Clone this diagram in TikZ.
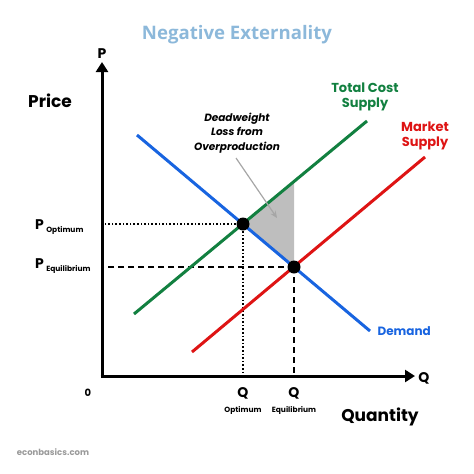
\documentclass[tikz,border=0pt]{standalone}
\usepackage{fontspec}
\setmainfont{Poppins}
\newfontfamily\titlefont{Open Sans}
\usetikzlibrary{arrows.meta}

\definecolor{demandblue}{RGB}{24,100,224}
\definecolor{costgreen}{RGB}{18,128,64}
\definecolor{marketred}{RGB}{222,20,20}
\definecolor{titleblue}{RGB}{140,184,218}
\definecolor{dwlgray}{RGB}{190,190,190}

\tikzset{
    curve/.style={line width=3pt},
    axis/.style={line width=3pt, -{Triangle[length=10pt,width=12pt]}},
    guide/.style={line width=1.6pt},
    pt/.style={circle, fill=black, inner sep=0pt, minimum size=13pt},
    lab/.style={font=\fontsize{13}{15}\selectfont\bfseries, align=center}
}

\begin{document}
\begin{tikzpicture}[x=1pt, y=-1pt]
    \useasboundingbox (0,0) rectangle (474,474);

    % Title
    \node[titleblue, font=\titlefont\fontsize{18.6}{21}\selectfont\bfseries] (title) at (237,35) {Negative Externality};

    % Key points and curve ends
    \coordinate (origin) at (102,376);
    \coordinate (ytop) at (102,62);
    \coordinate (xend) at (415,376);
    \coordinate (opt) at (243,224);
    \coordinate (eq) at (294,267);
    \coordinate (dtop) at (137,135);
    \coordinate (dbot) at (370,331);
    \coordinate (gbot) at (134,314);
    \coordinate (gtop) at (367,121);
    \coordinate (rbot) at (192,352);
    \coordinate (rtop) at (425,157);
    \coordinate (gmid) at (294,182);

    % Deadweight loss triangle
    \fill[dwlgray] (opt) -- (gmid) -- (eq) -- cycle;

    % Guide lines to the axes
    \draw[guide, dotted] (opt) -- (opt -| origin);
    \draw[guide, dotted] (opt) -- (opt |- origin);
    \draw[guide, dashed, dash pattern=on 6pt off 4pt] (eq) -- (eq -| origin);
    \draw[guide, dashed, dash pattern=on 6pt off 4pt] (eq) -- (eq |- origin);

    % Supply and demand curves
    \draw[curve, costgreen] (gbot) -- (gtop);
    \draw[curve, marketred] (rbot) -- (rtop);
    \draw[curve, demandblue] (dtop) -- (dbot);

    % Axes
    \draw[axis] (origin) -- (ytop);
    \draw[axis] ([xshift=-1.5pt]origin) -- (xend);

    % Intersection points
    \node[pt] (optpt) at (opt) {};
    \node[pt] (eqpt) at (eq) {};

    % Pointer to the triangle
    \coordinate (arrstart) at (236,158);
    \draw[gray!70, line width=1.2pt, -{Stealth[length=7pt,width=6pt]}] (arrstart) -- (277,218);

    % Curve labels
    \node[lab, costgreen] (tclab) at (365,97) {Total Cost\\Supply};
    \node[lab, marketred] (mslab) at (425,136) {Market\\Supply};
    \node[lab, demandblue, font=\fontsize{12}{14}\selectfont\bfseries, anchor=west] (dlab) at (374,331) {Demand};
    \node[font=\fontsize{10.5}{14.5}\selectfont\bfseries\itshape, align=center] (dwl) at (237,133) {Deadweight\\Loss from\\Overproduction};

    % Axis labels
    \node[font=\fontsize{14}{16}\selectfont\bfseries] (plab) at (102,54) {P};
    \node[font=\fontsize{14}{16}\selectfont\bfseries] (qlab) at (424,378) {Q};
    \node[font=\fontsize{17}{19}\selectfont\bfseries] (price) at (50,101) {Price};
    \node[font=\fontsize{17}{19}\selectfont\bfseries] (quantity) at (380,417) {Quantity};
    \node[font=\fontsize{10}{12}\selectfont\bfseries] (zero) at (88,393) {0};

    % Price levels
    \node[anchor=west, inner sep=0pt] (popt) at (35,227) {\fontsize{14}{16}\selectfont\bfseries P\,\raisebox{-3pt}{\fontsize{7.5}{10}\selectfont Optimum}};
    \node[anchor=west, inner sep=0pt] (peq) at (35,266) {\fontsize{14}{16}\selectfont\bfseries P\,\raisebox{-3pt}{\fontsize{7.5}{10}\selectfont Equilibrium}};

    % Quantity levels
    \node[font=\fontsize{14}{16}\selectfont\bfseries] (qopt) at (243,393) {Q};
    \node[font=\fontsize{7.5}{9}\selectfont\bfseries] (qoptsub) at (243,410) {Optimum};
    \node[font=\fontsize{14}{16}\selectfont\bfseries] (qeq) at (294,393) {Q};
    \node[font=\fontsize{7.5}{9}\selectfont\bfseries] (qeqsub) at (294,410) {Equilibrium};

    % Source
    \node[gray!80, font=\fontsize{8.5}{10}\selectfont\bfseries] (src) at (53,452) {econbasics.com};
\end{tikzpicture}
\end{document}
